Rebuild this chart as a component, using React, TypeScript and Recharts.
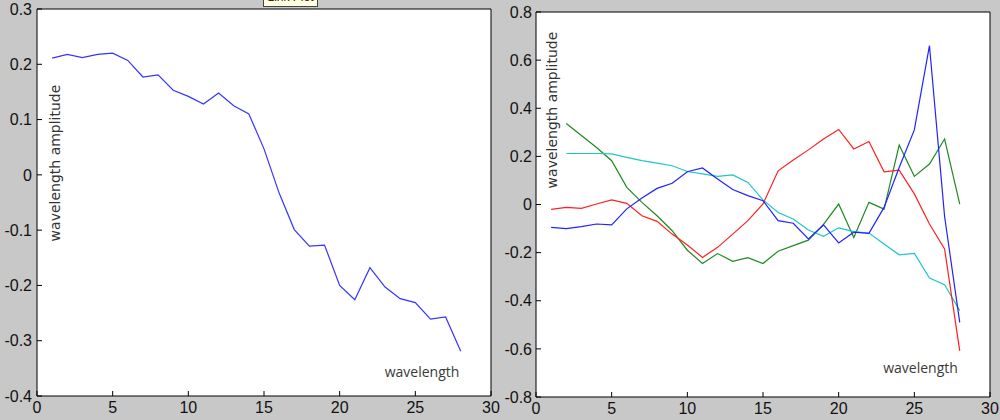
import React from "react";
import { LineChart, Line, XAxis, YAxis, CartesianGrid } from "recharts";

// wavelength index shared by both panels
const wavelength = [
  1, 2, 3, 4, 5, 6, 7, 8, 9, 10, 11, 12, 13, 14, 15, 16, 17, 18, 19, 20, 21, 22, 23, 24, 25, 26, 27, 28,
];

// left panel
const amplitude = [
  0.211, 0.218, 0.212, 0.218, 0.22, 0.207, 0.177, 0.181, 0.153, 0.142, 0.128, 0.148, 0.125, 0.11,
  0.047, -0.033, -0.099, -0.129, -0.127, -0.2, -0.226, -0.168, -0.203, -0.224, -0.231, -0.261,
  -0.257, -0.319,
];

// right panel
const blueSeries = [
  -0.095, -0.1, -0.092, -0.081, -0.085, -0.018, 0.027, 0.067, 0.088, 0.136, 0.152, 0.106, 0.062,
  0.037, 0.016, -0.067, -0.078, -0.143, -0.085, -0.16, -0.115, -0.12, -0.012, 0.154, 0.31, 0.66,
  -0.05, -0.49,
];
const redSeries = [
  -0.02, -0.012, -0.016, 0.002, 0.019, 0.005, -0.047, -0.07, -0.123, -0.168, -0.22, -0.178, -0.123,
  -0.067, 0.002, 0.14, 0.185, 0.227, 0.272, 0.312, 0.231, 0.262, 0.136, 0.143, 0.044, -0.081,
  -0.185, -0.608,
];
const greenSeries = [
  null, 0.337, 0.287, 0.237, 0.182, 0.071, 0.009, -0.047, -0.109, -0.19, -0.245, -0.204, -0.236,
  -0.221, -0.245, -0.194, -0.171, -0.148, -0.083, 0.002, -0.137, 0.009, -0.019, 0.247, 0.117, 0.168,
  0.272, 0.002,
];
const cyanSeries = [
  null, 0.212, 0.212, 0.212, 0.21, 0.196, 0.182, 0.172, 0.161, 0.137, 0.127, 0.117, 0.123, 0.092,
  0.019, -0.033, -0.06, -0.106, -0.132, -0.097, -0.113, -0.119, -0.164, -0.209, -0.203, -0.306,
  -0.333, -0.441,
];

const xTicks = [0, 5, 10, 15, 20, 25, 30];
const leftYTicks = [-0.4, -0.3, -0.2, -0.1, 0, 0.1, 0.2, 0.3];
const rightYTicks = [-0.8, -0.6, -0.4, -0.2, 0, 0.2, 0.4, 0.6, 0.8];

const leftData = wavelength.map((x, i) => ({ x, amplitude: amplitude[i] }));
const rightData = wavelength.map((x, i) => ({
  x,
  blue: blueSeries[i],
  red: redSeries[i],
  green: greenSeries[i],
  cyan: cyanSeries[i],
}));

const tickStyle = { fill: "#111", fontSize: 16, fontFamily: "'Liberation Sans', Arial, sans-serif" };
const black = { stroke: "#000" };
const fmt = (v: number) => String(v);

// box axes: labelled bottom/left, tick-only top/right, ticks pointing inward
function frame(yDomain: number[], yTicks: number[], yWidth: number, xHeight: number, yMargin: number) {
  return [
    <CartesianGrid key="bg" fill="#fff" horizontal={false} vertical={false} />,
    <XAxis
      key="xb"
      dataKey="x"
      type="number"
      domain={[0, 30]}
      ticks={xTicks}
      interval={0}
      height={xHeight}
      tickSize={-5}
      tickMargin={11}
      tick={tickStyle}
      axisLine={black}
      tickLine={black}
      allowDataOverflow
    />,
    <XAxis
      key="xt"
      xAxisId="top"
      orientation="top"
      dataKey="x"
      type="number"
      domain={[0, 30]}
      ticks={xTicks}
      interval={0}
      height={1}
      tickSize={-5}
      tick={false}
      axisLine={black}
      tickLine={black}
      allowDataOverflow
    />,
    <YAxis
      key="yl"
      type="number"
      domain={yDomain}
      ticks={yTicks}
      interval={0}
      width={yWidth}
      tickSize={-5}
      tickMargin={yMargin}
      tick={tickStyle}
      tickFormatter={fmt}
      axisLine={black}
      tickLine={black}
      allowDataOverflow
    />,
    <YAxis
      key="yr"
      yAxisId="right"
      orientation="right"
      type="number"
      domain={yDomain}
      ticks={yTicks}
      interval={0}
      width={1}
      tickSize={-5}
      tick={false}
      axisLine={black}
      tickLine={black}
      allowDataOverflow
    />,
  ];
}

const labelFont = "'DejaVu Sans', Verdana, sans-serif";
const xLabelFont = "'Open Sans', sans-serif";

export default function App() {
  return (
    <div
      style={{
        position: "absolute",
        left: 0,
        top: 0,
        width: 1000,
        height: 420,
        background: "#c8c8c8",
        overflow: "hidden",
      }}
    >
      <div style={{ position: "absolute", left: 0, top: 0 }}>
        <LineChart width={500} height={420} data={leftData} margin={{ top: 8, right: 8, bottom: 0, left: 0 }}>
          {frame([-0.4, 0.3], leftYTicks, 37, 24, 10)}
          <Line
            type="linear"
            dataKey="amplitude"
            stroke="#3535ff"
            strokeWidth={1.2}
            dot={false}
            isAnimationActive={false}
          />
        </LineChart>
      </div>

      <div style={{ position: "absolute", left: 500, top: 0 }}>
        <LineChart width={500} height={420} data={rightData} margin={{ top: 11, right: 9, bottom: 0, left: 0 }}>
          {frame([-0.8, 0.8], rightYTicks, 36, 23, 9)}
          <Line type="linear" dataKey="green" stroke="#1f8a1f" strokeWidth={1.2} dot={false} isAnimationActive={false} />
          <Line type="linear" dataKey="cyan" stroke="#1fc6c6" strokeWidth={1.2} dot={false} isAnimationActive={false} />
          <Line type="linear" dataKey="red" stroke="#ff1f1f" strokeWidth={1.2} dot={false} isAnimationActive={false} />
          <Line type="linear" dataKey="blue" stroke="#2222ff" strokeWidth={1.2} dot={false} isAnimationActive={false} />
        </LineChart>
      </div>

      <svg width={1000} height={420} style={{ position: "absolute", left: 0, top: 0, pointerEvents: "none" }}>
        <text
          transform="translate(59.5,163) rotate(-90)"
          textAnchor="middle"
          fontFamily={labelFont}
          fontSize={14}
          fill="#333"
        >
          wavelength amplitude
        </text>
        <text
          transform="translate(556.5,110) rotate(-90)"
          textAnchor="middle"
          fontFamily={labelFont}
          fontSize={14}
          fill="#333"
        >
          wavelength amplitude
        </text>
        <text x={422} y={377} textAnchor="middle" fontFamily={xLabelFont} fontSize={14} fill="#3a3a3a">
          wavelength
        </text>
        <text x={920.5} y={373} textAnchor="middle" fontFamily={xLabelFont} fontSize={14} fill="#3a3a3a">
          wavelength
        </text>
      </svg>

      <div
        style={{
          position: "absolute",
          left: 263,
          top: -1,
          width: 53,
          height: 6,
          border: "1px solid #444",
          background: "#ffffe1",
          overflow: "hidden",
        }}
      >
        <div
          style={{
            position: "relative",
            top: -9,
            textAlign: "center",
            fontFamily: "'Liberation Sans', Arial, sans-serif",
            fontSize: 12,
            lineHeight: "13px",
            color: "#402020",
          }}
        >
          Link Plot
        </div>
      </div>
    </div>
  );
}
